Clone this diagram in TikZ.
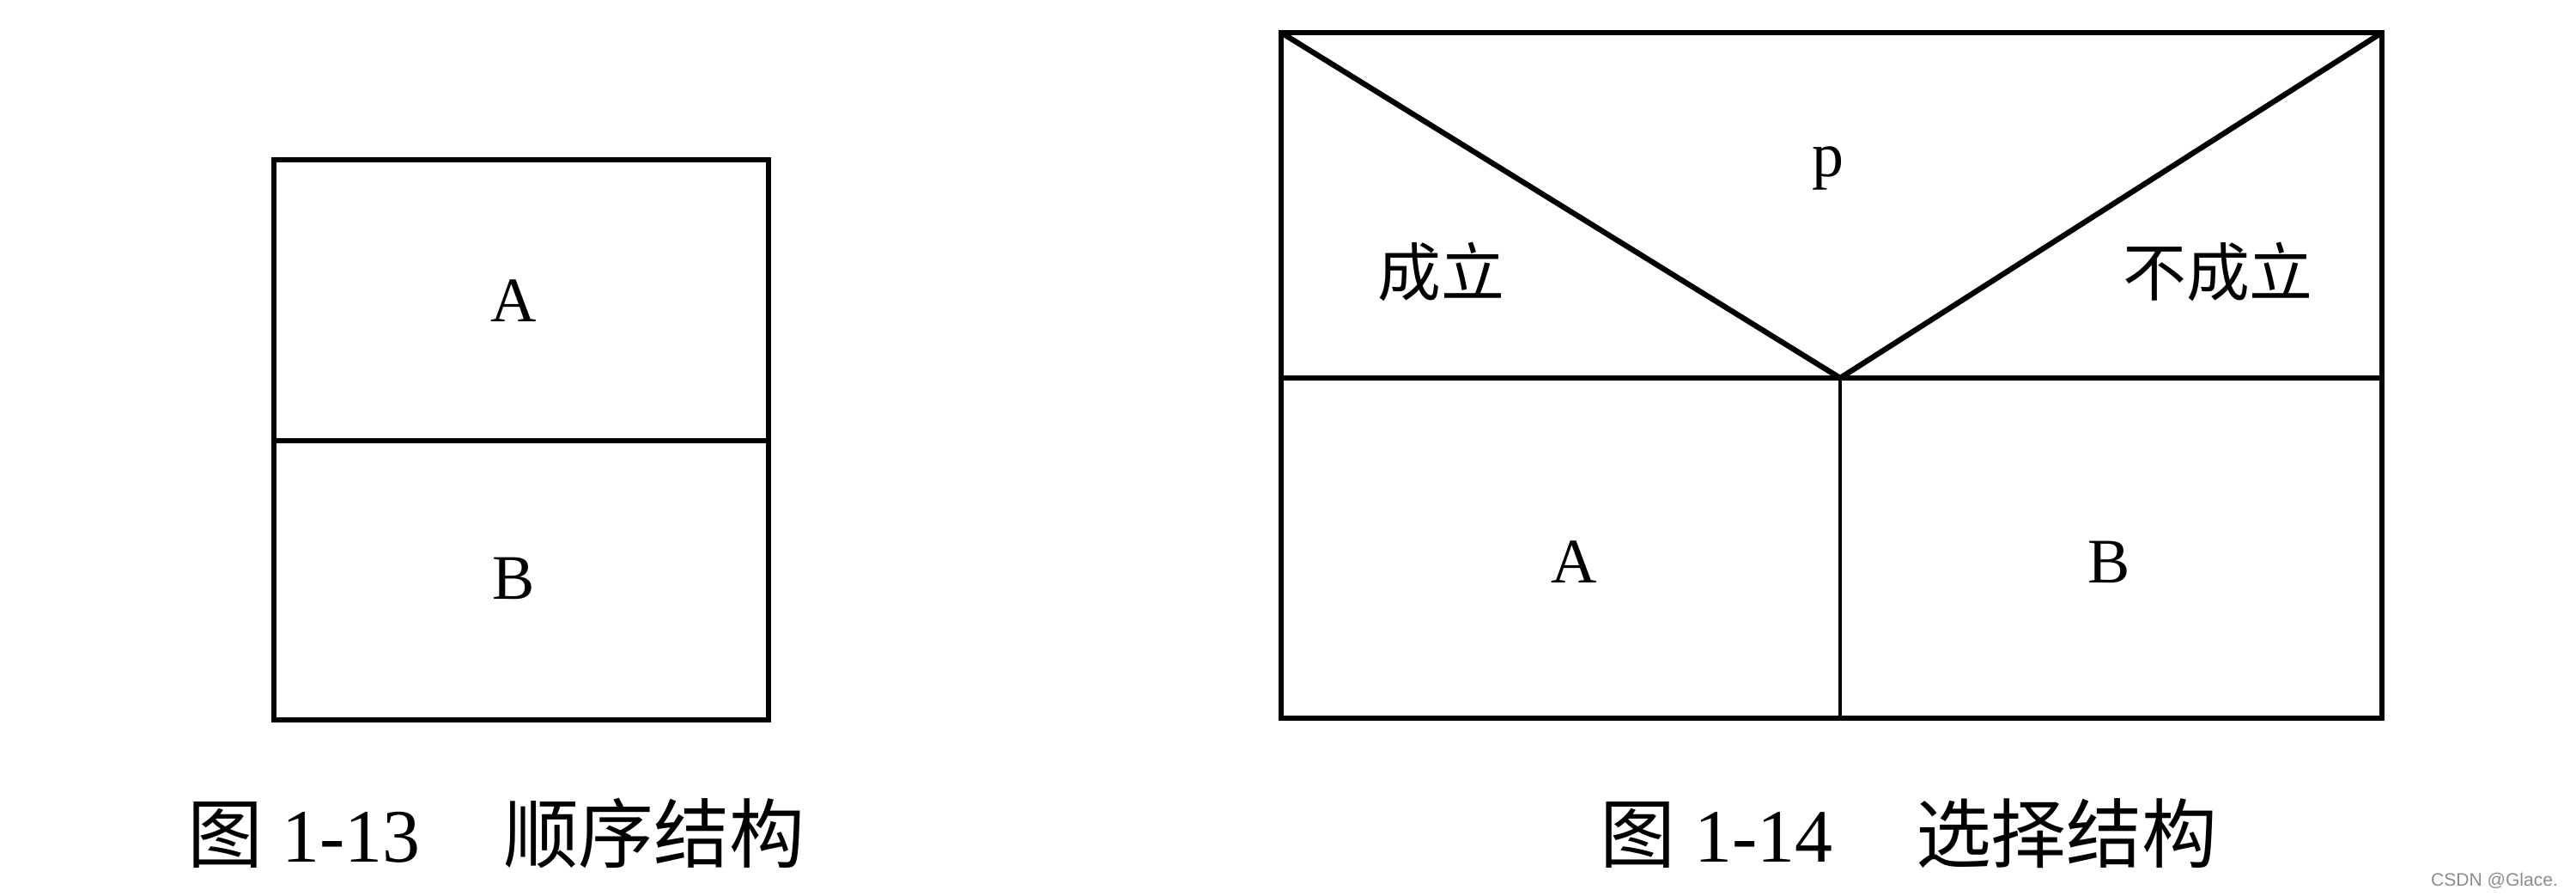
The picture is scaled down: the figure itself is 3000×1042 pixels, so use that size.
\documentclass[tikz,border=0pt]{standalone}
\usepackage{fontspec}
\setmainfont{Liberation Serif}
\newfontfamily\cjk{Noto Sans CJK SC}
\newfontfamily\wmfont{Liberation Sans}
\begin{document}
\begin{tikzpicture}[x=0.01cm,y=-0.01cm,
  frame/.style={line width=1.8pt, line join=miter},
  thinline/.style={line width=1.3pt},
  lbl/.style={inner sep=0pt, font=\fontsize{21}{24}\selectfont},
  cnlbl/.style={inner sep=0pt, font=\cjk\fontsize{21}{24}\selectfont},
  captext/.style={inner sep=0pt, font=\fontsize{25}{28}\selectfont},
  wm/.style={inner sep=0pt, text=black!45, font=\wmfont\fontsize{6}{7}\selectfont}]
\useasboundingbox (0,0) rectangle (3000,1042);
% left figure
\coordinate (L1) at (319,186);
\coordinate (L2) at (895,838);
\coordinate (Lml) at (319,513);
\coordinate (Lmr) at (895,513);
\draw[frame] (L1) rectangle (L2);
\draw[frame] (Lml) -- (Lmr);
\node[lbl] (sA) at (598,350) {A};
\node[lbl] (sB) at (598,673) {B};
% right figure
\coordinate (R1) at (1492,38);
\coordinate (R2) at (2774,836);
\coordinate (RTR) at (2774,38);
\coordinate (Rml) at (1492,440);
\coordinate (Rmr) at (2774,440);
\coordinate (V) at (2143,440);
\coordinate (Vb) at (2143,836);
\draw[frame] (R1) rectangle (R2);
\draw[frame] (Rml) -- (Rmr);
\draw[frame] (R1) -- (V) -- (RTR);
\draw[thinline] (V) -- (Vb);
\node[lbl] (p) at (2129,196) {p};
\node[cnlbl] (yes) at (1678,316) {成立};
\node[cnlbl] (no) at (2583,316) {不成立};
\node[lbl] (cA) at (1833,654) {A};
\node[lbl] (cB) at (2456,654) {B};
% captions
\node[captext] (cap1) at (578,970) {{\cjk 图} 1-13\hspace{1.1em}{\cjk 顺序结构}};
\node[captext] (cap2) at (2223,970) {{\cjk 图} 1-14\hspace{1.1em}{\cjk 选择结构}};
\node[wm] (wmark) at (2905,1025) {CSDN @Glace.};
\end{tikzpicture}
\end{document}
